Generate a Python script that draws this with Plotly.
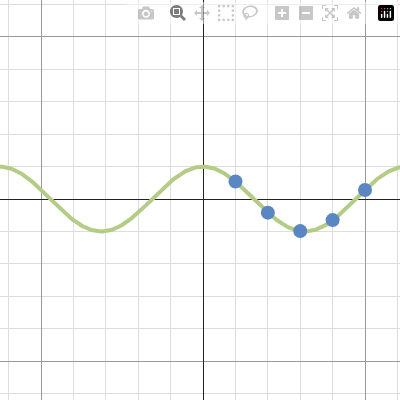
import numpy as np
import plotly.graph_objects as go

# sample points (x, y)
point_x = [1, 2, 3, 4, 5]
point_y = [0.54, -0.42, -0.99, -0.65, 0.28]

# the curve is y = cos(x)
curve_x = np.linspace(-6.5, 6.5, 400)
curve_y = np.cos(curve_x)

fig = go.Figure()
fig.add_trace(go.Scatter(x=curve_x, y=curve_y, mode="lines",
                         line=dict(color="#b4cc85", width=4), hoverinfo="skip"))
fig.add_trace(go.Scatter(x=point_x, y=point_y, mode="markers",
                         marker=dict(color="#5a86c4", size=14)))

axis = dict(dtick=5, tick0=0, showgrid=True, gridcolor="#999999", gridwidth=1,
            minor=dict(dtick=1, showgrid=True, gridcolor="#dddddd", gridwidth=1),
            zeroline=True, zerolinecolor="#222222", zerolinewidth=1.2,
            showticklabels=False, ticks="")

fig.update_layout(
    width=400, height=400, margin=dict(l=0, r=0, t=0, b=0),
    plot_bgcolor="white", paper_bgcolor="white", showlegend=False,
    xaxis=dict(axis, range=[-6.27, 6.08]),
    yaxis=dict(axis, range=[-6.2, 6.14]),
)
fig.write_html("out.html", post_script="document.body.style.margin='0';")
